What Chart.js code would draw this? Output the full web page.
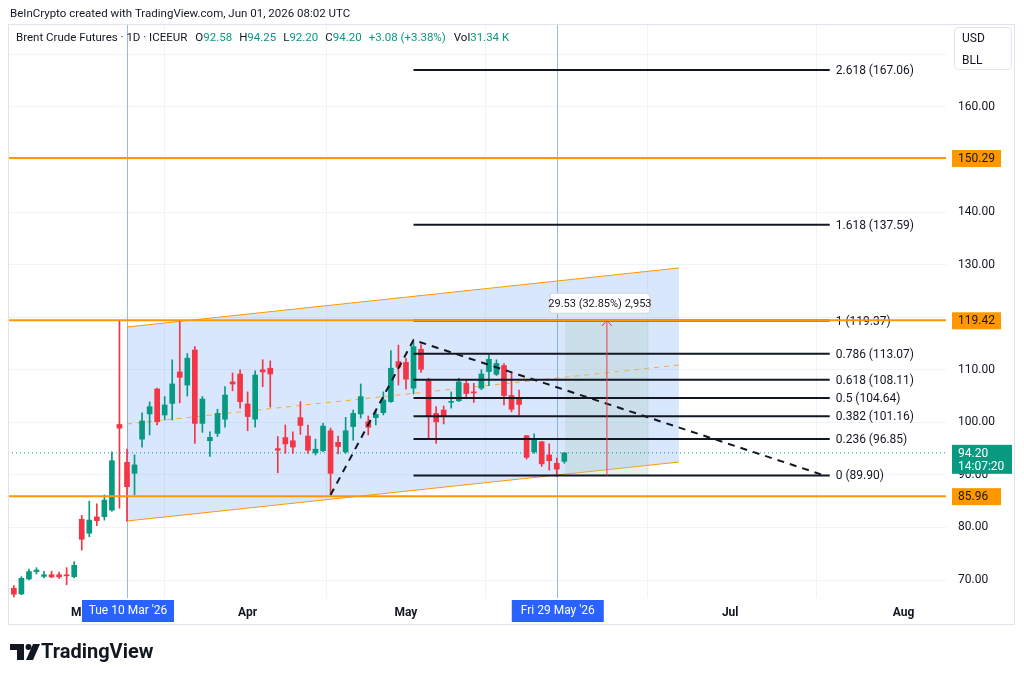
<!DOCTYPE html>
<html>
<head>
<meta charset="utf-8">
<script src="https://cdn.jsdelivr.net/npm/chart.js@4.4.1/dist/chart.umd.min.js"></script>
<style>
    html, body { margin: 0; padding: 0; background: #ffffff; }
    canvas { display: block; }
</style>
</head>
<body>
<canvas id="chart" width="1024" height="679"></canvas>
<script>
// bar index 0 = Tue 10 Mar '26, one step per trading day
const firstBar = -16;
const opens  = [68.3, 68.43, 67.35, 70.2, 71.6, 70.7, 71.0, 71.0, 70.95, 70.64,
                81.56, 78.9, 82.0, 82.05, 83.3, 99.6, 92.4, 90.3, 96.8, 101.6,
                106.35, 101.4, 103.6, 109.6, 107.1, 113.77, 99.8, 96.5, 97.9, 100.6,
                107.7, 109.2, 103.5, 100.6, 110.0, 110.3, 95.0, 97.1, 96.5, 100.9,
                97.4, 94.2, 94.6, 98.4, 96.2, 94.4, 99.2, 101.6, 100.1, 100.9,
                101.85, 103.95, 111.55, 111.4, 106.5, 113.9, 107.9, 101.7, 102.35, 103.8,
                104.1, 107.4, 105.8, 106.5, 109.66, 109.14, 110.8, 105.1, 104.6, 97.46,
                94.4, 96.3, 93.8, 92.2, 92.58];
const highs  = [68.8, 68.93, 70.64, 72.1, 72.35, 71.67, 71.67, 71.5, 72.35, 73.5,
                82.3, 85.0, 84.5, 86.2, 94.4, 119.47, 94.9, 93.8, 101.8, 103.9,
                106.5, 104.9, 111.9, 119.15, 113.1, 114.4, 104.9, 98.2, 102.5, 106.8,
                109.4, 110.0, 105.8, 109.8, 111.9, 111.7, 97.3, 99.5, 98.2, 103.95,
                99.5, 96.8, 99.8, 98.9, 97.4, 100.95, 102.35, 107.3, 101.2, 102.2,
                105.8, 113.65, 114.7, 112.2, 115.3, 114.8, 108.4, 103.0, 103.1, 105.8,
                108.4, 108.2, 107.4, 110.0, 112.8, 111.9, 111.2, 109.35, 106.15, 97.5,
                97.8, 96.4, 95.9, 93.2, 94.25];
const lows   = [68.0, 66.8, 67.2, 70.0, 71.15, 70.4, 70.44, 70.3, 69.1, 70.4,
                75.7, 78.25, 80.35, 81.4, 83.1, 83.65, 81.2, 86.2, 95.3, 97.6,
                99.5, 100.45, 100.45, 103.7, 105.0, 96.0, 98.1, 93.5, 97.3, 99.1,
                106.0, 102.7, 98.4, 99.1, 106.8, 102.9, 90.4, 94.1, 94.1, 97.7,
                94.1, 93.8, 94.4, 86.2, 94.0, 94.1, 96.6, 100.8, 97.6, 99.5,
                101.4, 103.8, 107.1, 106.3, 105.4, 109.5, 97.0, 96.0, 99.7, 102.7,
                103.95, 104.9, 103.8, 106.2, 107.0, 108.9, 103.3, 102.0, 101.4, 93.0,
                94.1, 91.6, 90.9, 89.7, 92.2];
const closes = [68.5, 67.3, 70.33, 71.6, 71.9, 71.0, 70.58, 70.6, 70.8, 72.8,
                77.75, 81.4, 81.3, 85.2, 92.7, 98.9, 87.76, 91.9, 100.26, 102.98,
                100.13, 103.3, 107.3, 108.57, 112.2, 99.8, 104.44, 97.15, 101.7, 105.2,
                107.3, 103.95, 101.1, 109.0, 109.6, 109.2, 94.7, 95.9, 95.3, 99.4,
                94.7, 94.9, 99.3, 90.3, 95.4, 98.4, 101.7, 104.9, 99.06, 101.5,
                104.25, 110.3, 110.5, 108.2, 114.4, 110.1, 101.2, 100.1, 101.2, 104.0,
                107.7, 105.5, 105.6, 109.2, 112.0, 111.2, 105.1, 102.5, 103.4, 93.35,
                96.8, 92.1, 92.7, 91.1, 94.2];

const monthTicks  = [-6, 16, 37, 58, 80, 103];
const monthLabels = ['Mar', 'Apr', 'May', 'Jun', 'Jul', 'Aug'];
const priceTicks  = [70, 80, 90, 100, 110, 120, 130, 140, 150, 160, 170];
const hiddenPriceLabels = [120, 170];

const levelPrices = [150.29, 119.42, 85.96];
const lastPrice = 94.20;
const lastTime = '14:07:20';

const fibRatios = ['2.618', '1.618', '1', '0.786', '0.618', '0.5', '0.382', '0.236', '0'];
const fibPrices = [167.06, 137.59, 119.37, 113.07, 108.11, 104.64, 101.16, 96.85, 89.90];
const fibSpan   = [38, 93.2];

const channelX    = [0, 73.2];
const channelLow  = [81.23, 92.45];
const channelHigh = [118.14, 129.37];

const swingX = [27, 38, 92.7];
const swingY = [86.18, 115.67, 89.8];

const rangeX = [58.1, 69.2];
const rangePrices = [89.90, 119.43];

const markedBars   = [0, 57];
const markedLabels = ["Tue 10 Mar '26", "Fri 29 May '26"];

const xMin = -15.78, xMax = 108.62;
const yMin = 66.58, yMax = 175.6;

const upColor = '#089981';
const downColor = '#F23645';
const orange = '#FF9800';
const textColor = '#131722';
const gridColor = '#f0f3fa';
const font = 'Roboto, "Liberation Sans", sans-serif';


const bars = opens.map((o, i) => ({x: firstBar + i, o: o, h: highs[i], l: lows[i], c: closes[i]}));
const barColors = bars.map(b => b.c >= b.o ? upColor : downColor);

function segment(xs, ys) {
    return xs.map((v, i) => ({x: v, y: ys[i]}));
}

function lineSet(data, color, width, order, extra) {
    return Object.assign({
        type: 'line',
        data: data,
        borderColor: color,
        borderWidth: width,
        pointRadius: 0,
        fill: false,
        tension: 0,
        order: order
    }, extra || {});
}

const arrowX = (rangeX[0] + rangeX[1]) / 2;

const datasets = [
    lineSet(segment(channelX, channelLow), orange, 1, 30),
    lineSet(segment(channelX, channelHigh), orange, 1, 30, {fill: '-1', backgroundColor: 'rgba(66, 133, 244, 0.2)'}),
    lineSet(segment(channelX, channelX.map((v, i) => (channelLow[i] + channelHigh[i]) / 2)), 'rgba(255, 152, 0, 0.8)', 1, 29, {borderDash: [5, 5]}),
    lineSet(segment(rangeX, [rangePrices[1], rangePrices[1]]), 'rgba(0,0,0,0)', 0, 25, {fill: '+1', backgroundColor: 'rgba(170, 205, 190, 0.3)'}),
    lineSet(segment(rangeX, [rangePrices[0], rangePrices[0]]), 'rgba(0,0,0,0)', 0, 25),
    lineSet(segment([xMin, xMax], [lastPrice, lastPrice]), upColor, 1, 22, {borderDash: [1, 3]}),
    {
        type: 'bar',
        data: bars.map(b => ({x: b.x, y: [b.l, b.h]})),
        backgroundColor: barColors,
        barThickness: 1,
        grouped: false,
        minBarLength: 1,
        order: 20
    },
    {
        type: 'bar',
        data: bars.map(b => ({x: b.x, y: [b.o, b.c]})),
        backgroundColor: barColors,
        barThickness: 5,
        grouped: false,
        minBarLength: 1,
        order: 19
    }
];

fibPrices.forEach(p => {
    datasets.push(lineSet(segment(fibSpan, [p, p]), '#131722', 2, 10));
});

datasets.push(lineSet(segment(swingX, swingY), '#131722', 2, 9, {borderDash: [7, 6]}));
datasets.push(lineSet(segment([arrowX, arrowX], rangePrices), downColor, 1, 8));
datasets.push(lineSet(segment([arrowX - 0.65, arrowX, arrowX + 0.65], [rangePrices[1] - 1.1, rangePrices[1], rangePrices[1] - 1.1]), downColor, 1, 8));

levelPrices.forEach(p => {
    datasets.push(lineSet(segment([xMin, xMax], [p, p]), orange, 2, 5));
});


function roundRect(ctx, x, y, w, h, r) {
    ctx.beginPath();
    ctx.moveTo(x + r, y);
    ctx.arcTo(x + w, y, x + w, y + h, r);
    ctx.arcTo(x + w, y + h, x, y + h, r);
    ctx.arcTo(x, y + h, x, y, r);
    ctx.arcTo(x, y, x + w, y, r);
    ctx.closePath();
}

const overlayPlugin = {
    id: 'overlay',
    beforeDatasetsDraw(chart) {
        const {ctx, chartArea, scales: {x, y}} = chart;
        ctx.save();

        ctx.strokeStyle = '#9fb4f3';
        ctx.lineWidth = 1;
        markedBars.forEach(b => {
            const px = Math.round(x.getPixelForValue(b)) + 0.5;
            ctx.beginPath();
            ctx.moveTo(px, chartArea.top);
            ctx.lineTo(px, chartArea.bottom);
            ctx.stroke();
        });

        ctx.font = '12px ' + font;
        ctx.fillStyle = textColor;
        ctx.textBaseline = 'middle';
        ctx.textAlign = 'left';
        fibPrices.forEach((p, i) => {
            ctx.fillText(fibRatios[i] + ' (' + p.toFixed(2) + ')', x.getPixelForValue(fibSpan[1]) + 6, y.getPixelForValue(p) + 1);
        });
        ctx.restore();
    },
    afterDraw(chart) {
        const {ctx, chartArea, scales: {x, y}} = chart;
        ctx.save();
        ctx.textBaseline = 'middle';
        ctx.textAlign = 'left';

        // frame
        ctx.strokeStyle = '#e0e3eb';
        ctx.lineWidth = 1;
        ctx.strokeRect(8.5, 24.5, 1006, 600);

        // header
        ctx.font = '11.5px ' + font;
        ctx.fillStyle = textColor;
        ctx.fillText('BeInCrypto created with TradingView.com, Jun 01, 2026 08:02 UTC', 10, 14);

        // legend row, drawn piece after piece
        ctx.font = '11.5px ' + font;
        const last = bars[bars.length - 1];
        const legend = [
            ['Brent Crude Futures · 1D · ICEEUR', textColor, 8],
            ['O', textColor, 0], [last.o.toFixed(2), upColor, 7],
            ['H', textColor, 0], [last.h.toFixed(2), upColor, 7],
            ['L', textColor, 0], [last.l.toFixed(2), upColor, 7],
            ['C', textColor, 0], [last.c.toFixed(2), upColor, 7],
            ['+3.08 (+3.38%)', upColor, 8],
            ['Vol', textColor, 0], ['31.34 K', upColor, 0]
        ];
        let lx = 16;
        legend.forEach(item => {
            ctx.fillStyle = item[1];
            ctx.fillText(item[0], lx, 38);
            lx += ctx.measureText(item[0]).width + item[2];
        });

        // currency box
        ctx.fillStyle = '#ffffff';
        ctx.strokeStyle = '#e0e3eb';
        roundRect(ctx, 954.5, 27.5, 57, 42, 4);
        ctx.fill();
        ctx.stroke();
        ctx.font = '12px ' + font;
        ctx.fillStyle = textColor;
        ctx.fillText('USD', 962, 39);
        ctx.fillText('BLL', 962, 61);

        // price labels on the axis
        levelPrices.forEach(p => {
            const py = y.getPixelForValue(p);
            ctx.fillStyle = orange;
            ctx.fillRect(952, py - 8, 49, 17);
            ctx.fillStyle = textColor;
            ctx.fillText(p.toFixed(2), 958, py + 1);
        });

        const lp = y.getPixelForValue(lastPrice);
        ctx.fillStyle = upColor;
        ctx.fillRect(952, lp - 8, 60, 29);
        ctx.fillStyle = '#ffffff';
        ctx.fillText(lastPrice.toFixed(2), 958, lp + 1);
        ctx.fillText(lastTime, 958, lp + 14);

        // marked dates on the time axis
        ctx.textAlign = 'center';
        markedBars.forEach((b, i) => {
            const px = x.getPixelForValue(b);
            ctx.fillStyle = '#2962FF';
            ctx.fillRect(px - 45, chartArea.bottom + 2, 92, 22);
            ctx.fillStyle = '#ffffff';
            ctx.fillText(markedLabels[i], px + 1, chartArea.bottom + 13);
        });

        // measure label
        const diff = rangePrices[1] - rangePrices[0];
        const pct = diff / rangePrices[0] * 100;
        const ticksCount = Math.round(diff * 100).toLocaleString('en-US');
        const mx = x.getPixelForValue(arrowX) - 7;
        const my = y.getPixelForValue(rangePrices[1]) - 17;
        ctx.fillStyle = '#ffffff';
        ctx.strokeStyle = '#d1d4dc';
        roundRect(ctx, mx - 50, my - 10, 100, 20, 3);
        ctx.fill();
        ctx.stroke();
        ctx.font = '11px ' + font;
        ctx.fillStyle = textColor;
        ctx.fillText(diff.toFixed(2) + ' (' + pct.toFixed(2) + '%) ' + ticksCount, mx, my + 1);

        // logo
        ctx.fillStyle = textColor;
        ctx.beginPath();
        ctx.moveTo(10, 644); ctx.lineTo(24, 644); ctx.lineTo(24, 660); ctx.lineTo(17, 660);
        ctx.lineTo(17, 650); ctx.lineTo(10, 650); ctx.closePath();
        ctx.fill();
        ctx.beginPath();
        ctx.arc(28.5, 647, 3, 0, Math.PI * 2);
        ctx.fill();
        ctx.beginPath();
        ctx.moveTo(33, 644); ctx.lineTo(40, 644); ctx.lineTo(33, 660); ctx.lineTo(26, 660);
        ctx.closePath();
        ctx.fill();
        ctx.textAlign = 'left';
        ctx.font = 'bold 20px ' + font;
        ctx.fillText('TradingView', 41, 653);

        ctx.restore();
    }
};

new Chart(document.getElementById('chart').getContext('2d'), {
    type: 'bar',
    data: {datasets: datasets},
    options: {
        responsive: false,
        animation: false,
        devicePixelRatio: 1,
        layout: {padding: {top: 25, left: 8, right: 0, bottom: 54}},
        plugins: {
            legend: {display: false},
            tooltip: {enabled: false}
        },
        scales: {
            x: {
                type: 'linear',
                min: xMin,
                max: xMax,
                offset: false,
                afterBuildTicks: scale => {
                    scale.ticks = monthTicks.map(v => ({value: v}));
                },
                afterFit: scale => {
                    scale.height = 27;
                },
                ticks: {
                    autoSkip: false,
                    maxRotation: 0,
                    padding: 8,
                    color: textColor,
                    font: {family: font, size: 12, weight: 'bold'},
                    callback: value => monthLabels[monthTicks.indexOf(value)] || ''
                },
                grid: {color: gridColor, drawTicks: false},
                border: {display: false}
            },
            y: {
                type: 'linear',
                position: 'right',
                min: yMin,
                max: yMax,
                afterBuildTicks: scale => {
                    scale.ticks = priceTicks.map(v => ({value: v}));
                },
                afterFit: scale => {
                    scale.width = 78;
                },
                ticks: {
                    padding: 12,
                    color: textColor,
                    font: {family: font, size: 12},
                    callback: value => hiddenPriceLabels.includes(value) ? '' : value.toFixed(2)
                },
                grid: {color: gridColor, drawTicks: false},
                border: {display: false}
            }
        }
    },
    plugins: [overlayPlugin]
});
</script>
</body>
</html>
